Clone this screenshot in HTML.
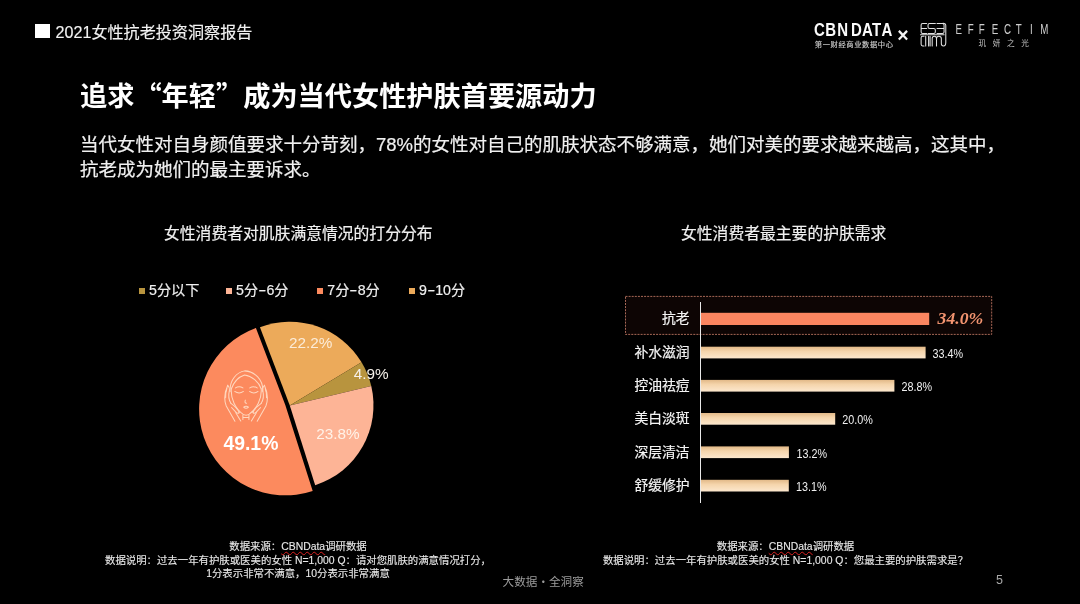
<!DOCTYPE html>
<html lang="zh-CN">
<head>
<meta charset="utf-8">
<title>2021女性抗老投资洞察报告</title>
<style>
html,body{margin:0;padding:0;background:#000;}
body{width:1080px;height:604px;overflow:hidden;position:relative;color:#fff;
 font-family:"Liberation Sans","Noto Sans CJK SC",sans-serif;}
.abs{position:absolute;white-space:nowrap;}
#hdr-sq{left:35px;top:23.8px;width:14.5px;height:14.5px;background:#fff;}
#hdr-t{-webkit-text-stroke:0.15px #f2f2f2;left:55.6px;top:20.6px;font-size:16.1px;line-height:22px;color:#f2f2f2;}
#title{left:80px;top:74.5px;font-size:27.2px;line-height:38px;font-weight:bold;color:#fff;}
#para{-webkit-text-stroke:0.2px #f0f0f0;left:80px;top:133px;font-size:18.5px;line-height:24.5px;color:#f0f0f0;white-space:normal;width:960px;}
.q{font-family:"Noto Sans CJK SC",sans-serif;}
.ctitle{-webkit-text-stroke:0.2px #f0f0f0;font-size:15.8px;line-height:20px;color:#f0f0f0;}
.lg{-webkit-text-stroke:0.18px #f0f0f0;top:280px;font-size:14.2px;line-height:20px;color:#f0f0f0;}
.lg i{display:inline-block;width:6px;height:6px;margin-right:4px;vertical-align:1.5px;}
.lg b{display:inline-block;font-weight:normal;transform:scaleX(1.7);margin:0 1.8px;}
.foot{-webkit-text-stroke:0.12px #e8e8e8;font-size:10.4px;line-height:13.9px;color:#e8e8e8;text-align:center;}
.sq{text-decoration:underline wavy #d22;text-decoration-thickness:1px;text-underline-offset:1px;}
svg{position:absolute;left:0;top:0;}
svg text{font-family:"Liberation Sans","Noto Sans CJK SC",sans-serif;}
</style>
</head>
<body>
<div class="abs" id="hdr-sq"></div>
<div class="abs" id="hdr-t">2021女性抗老投资洞察报告</div>
<div class="abs" id="title">追求<span class="q">“</span>年轻<span class="q">”</span>成为当代女性护肤首要源动力</div>
<div class="abs" id="para">当代女性对自身颜值要求十分苛刻，78%的女性对自己的肌肤状态不够满意，她们对美的要求越来越高，这其中，<br>抗老成为她们的最主要诉求。</div>

<div class="abs ctitle" id="ct1" style="left:164px;top:224px;">女性消费者对肌肤满意情况的打分分布</div>
<div class="abs ctitle" id="ct2" style="left:681px;top:224px;">女性消费者最主要的护肤需求</div>

<div id="legend">
<div class="abs lg" style="left:139px;"><i style="background:#B8943E"></i>5分以下</div>
<div class="abs lg" style="left:226px;"><i style="background:#FDB496"></i>5分<b>-</b>6分</div>
<div class="abs lg" style="left:317.3px;"><i style="background:#FC8A5E"></i>7分<b>-</b>8分</div>
<div class="abs lg" style="left:409px;"><i style="background:#ECAA5A"></i>9<b>-</b>10分</div>
</div>
<svg width="1080" height="604" viewBox="0 0 1080 604">
<!-- LOGOS -->
<g id="logo-cbn">
<text transform="translate(814.1,35.6) scale(0.82,1)" font-size="18.3" font-weight="bold" fill="#fafafa" x="0.0 13.7 28.3 45.0 58.5 70.5 82.2">CBNDATA</text>
<text x="814.8" y="46.9" font-size="7.3" fill="#cccccc" stroke="#cccccc" stroke-width="0.15" textLength="78.2" lengthAdjust="spacing">第一财经商业数据中心</text>
<text x="902.9" y="41.6" font-size="19.5" font-weight="bold" fill="#f4f4f4" text-anchor="middle">×</text>
</g>
<g id="logo-seal" transform="translate(913.4,15.83) scale(0.0618,0.0607)" fill="none" stroke="#e2e2e2" stroke-width="17" stroke-linecap="round" stroke-linejoin="round">
<path d="M215,125 L150,125 Q125,125 125,150 L125,266 Q125,290 150,290 L215,290 M125,208 L215,208"/>
<path d="M355,125 L262,125 Q237,125 237,150 L237,185 Q237,208 262,208 L330,208 Q355,208 355,232 L355,266 Q355,290 330,290 L237,290"/>
<path d="M382,125 L470,125 Q496,125 496,150 L496,266 Q496,290 470,290 L382,290 M382,208 L496,208"/>
<path d="M114,313 L498,313"/>
<path d="M470,125 Q524,120 524,160 L524,440 Q524,496 487,496 Q452,496 452,455 L452,374 Q452,336 412,336 Q374,336 374,374 L374,496"/>
<path d="M374,374 Q374,336 338,336 Q304,336 304,374 L304,496"/>
<path d="M172,336 L150,336 Q125,336 125,361 L125,470 Q125,496 150,496 L172,496"/>
<path d="M199,336 L199,496 M246,336 L246,496 M270,336 L270,496"/>
</g>
<g id="logo-eff">
<text transform="translate(955.5,33.7) scale(0.66,1)" font-size="14.8" fill="#cdcdcd" x="0.0 18.5 35.2 54.8 73.6 91.2 112.9 128.3">EFFECTIM</text>
<text x="978.5" y="46.1" font-size="7.6" fill="#c0c0c0" textLength="50.3" lengthAdjust="spacing">玑妍之光</text>
</g>
<!-- PIE -->
<g id="pie">
<path d="M289.80,405.40 L259.94,327.21 A83.7,83.7 0 0 1 361.56,362.32 Z" fill="#ECAA5A"/>
<path d="M289.80,405.40 L361.56,362.32 A83.7,83.7 0 0 1 371.24,386.09 Z" fill="#B8943E"/>
<path d="M289.80,405.40 L371.24,386.09 A83.7,83.7 0 0 1 315.19,485.16 Z" fill="#FDB496"/>
<path d="M285.3,404.9 L312.69,490.94 A86.3,86.3 0 0 1 255.92,327.96 Z" fill="#FC8A5E"/>
</g>
<g id="faceicon" transform="translate(218,366) scale(0.10593)" fill="none" stroke="#FFDFC8" stroke-width="9.5" stroke-linecap="round" stroke-linejoin="round" opacity="0.92">
<path d="M126,215 C118,310 165,405 235,455 Q265,475 295,455 C365,405 415,310 408,215"/>
<path d="M114,240 C108,130 180,58 252,46 C345,50 430,130 422,240"/>
<path d="M126,215 C150,150 200,100 250,84 C320,92 385,150 408,215"/>
<path d="M165,207 Q200,186 235,207"/>
<path d="M300,207 Q335,186 370,207"/>
<path d="M158,240 Q200,268 240,240"/>
<path d="M298,240 Q338,268 378,240"/>
<path d="M258,322 Q248,352 270,352"/>
<path d="M242,388 Q265,374 288,388 Q265,408 242,388 Z"/>
<path d="M235,462 L235,506 M292,462 L292,506 M235,486 L292,486"/>
<g>
<path d="M160,522 L78,378 C55,320 62,250 92,182"/>
<path d="M92,182 C102,192 110,208 108,228 C98,270 100,320 122,352"/>
<path d="M122,352 C150,372 185,398 200,440"/>
<path d="M200,440 C190,452 175,446 160,426 L128,392"/>
<path d="M215,520 L168,442"/>
<path d="M72,300 C70,270 74,240 84,215"/>
</g>
<g transform="translate(530,0) scale(-1,1)">
<path d="M160,522 L78,378 C55,320 62,250 92,182"/>
<path d="M92,182 C102,192 110,208 108,228 C98,270 100,320 122,352"/>
<path d="M122,352 C150,372 185,398 200,440"/>
<path d="M200,440 C190,452 175,446 160,426 L128,392"/>
<path d="M215,520 L168,442"/>
<path d="M72,300 C70,270 74,240 84,215"/>
</g>
</g>
<g id="pielabels" fill="#fcecd8" font-size="15.3" text-anchor="middle">
<text x="310.6" y="347.6">22.2%</text>
<text x="371.3" y="378.8" fill="#f6f1ea">4.9%</text>
<text x="337.9" y="439.4" fill="#fff2e8">23.8%</text>
<text x="250.9" y="450.1" font-size="19.4" font-weight="bold" fill="#fff">49.1%</text>
</g>
<!-- BAR -->
<defs>
<linearGradient id="bg" x1="0" y1="0" x2="0" y2="1"><stop offset="0" stop-color="#E2B988"/><stop offset="0.4" stop-color="#F5D5AC"/><stop offset="1" stop-color="#FCE7CD"/></linearGradient>
</defs>
<g id="bars">
<rect x="625.5" y="296.4" width="366.2" height="38" fill="#0d0504" stroke="#c47a66" stroke-width="0.85" stroke-dasharray="2 1.1"/>
<rect x="701" y="312.8" width="228.2" height="12.2" fill="#FA8560"/>
<rect x="701" y="346.7" width="224.6" height="11.7" fill="url(#bg)"/>
<rect x="701" y="379.9" width="193.4" height="11.7" fill="url(#bg)"/>
<rect x="701" y="413" width="134.2" height="11.7" fill="url(#bg)"/>
<rect x="701" y="446.4" width="87.9" height="11.7" fill="url(#bg)"/>
<rect x="701" y="479.8" width="87.8" height="11.7" fill="url(#bg)"/>
<rect x="700" y="302" width="1" height="201" fill="#e8e8e8"/>
</g>
<g id="barlabels" font-size="13.8" fill="#f4f4f4" stroke="#f4f4f4" stroke-width="0.2" text-anchor="end" transform="translate(0.6,0)">
<text x="689" y="323.3">抗老</text>
<text x="689" y="356.9">补水滋润</text>
<text x="689" y="390.1">控油祛痘</text>
<text x="689" y="423.3">美白淡斑</text>
<text x="689" y="456.7">深层清洁</text>
<text x="689" y="490.1">舒缓修护</text>
</g>
<g id="barvals" font-size="13.3" fill="#f0f0f0">
<text x="937.6" y="323.9" font-family="'Liberation Serif',serif" style="font-family:'Liberation Serif',serif" font-size="17.3" font-weight="bold" font-style="italic" fill="#F39470" textLength="45.6" lengthAdjust="spacingAndGlyphs">34.0%</text>
<text x="932.6" y="357.8" textLength="30.6" lengthAdjust="spacingAndGlyphs">33.4%</text>
<text x="901.6" y="391" textLength="30.6" lengthAdjust="spacingAndGlyphs">28.8%</text>
<text x="842.2" y="424.2" textLength="30.6" lengthAdjust="spacingAndGlyphs">20.0%</text>
<text x="796.5" y="457.6" textLength="30.6" lengthAdjust="spacingAndGlyphs">13.2%</text>
<text x="796" y="491" textLength="30.6" lengthAdjust="spacingAndGlyphs">13.1%</text>
</g>
</svg>

<div class="abs foot" style="left:58px;width:480px;top:539.6px;">数据来源：<span class="sq">CBNData</span>调研数据<br>数据说明：过去一年有护肤或医美的女性 N=1,000 Q：请对您肌肤的满意情况打分，<br>1分表示非常不满意，10分表示非常满意</div>
<div class="abs foot" style="left:545.5px;width:480px;top:539.6px;">数据来源：<span class="sq">CBNData</span>调研数据<br>数据说明：过去一年有护肤或医美的女性 N=1,000 Q：您最主要的护肤需求是？</div>
<div class="abs" style="left:502.6px;top:573.2px;font-size:11.6px;line-height:16px;color:#9c9c9c;">大数据<span class="q">·</span>全洞察</div>
<div class="abs" style="left:996px;top:571.5px;font-size:12.5px;line-height:16px;color:#a8a8a8;">5</div>
</body>
</html>
